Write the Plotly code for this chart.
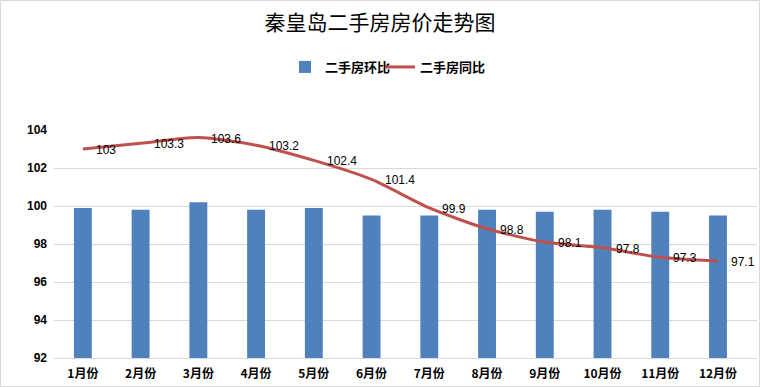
import plotly.graph_objects as go

months = ["1月份", "2月份", "3月份", "4月份", "5月份", "6月份",
          "7月份", "8月份", "9月份", "10月份", "11月份", "12月份"]
mom = [99.9, 99.8, 100.2, 99.8, 99.9, 99.5, 99.5, 99.8, 99.7, 99.8, 99.7, 99.5]
yoy = [103, 103.3, 103.6, 103.2, 102.4, 101.4, 99.9, 98.8, 98.1, 97.8, 97.3, 97.1]
yoy_labels = ["103", "103.3", "103.6", "103.2", "102.4", "101.4",
              "99.9", "98.8", "98.1", "97.8", "97.3", "97.1"]
y_ticks = [92, 94, 96, 98, 100, 102, 104]

W, H = 760, 387
ML, MR, MT, MB = 54, 3, 130, 29
PW, PH = W - ML - MR, H - MT - MB

fig = go.Figure()
fig.add_trace(go.Bar(
    x=months, y=mom, name="二手房环比", legend="legend",
    marker=dict(color="#4F81BD", line=dict(width=0)),
))
fig.add_trace(go.Scatter(
    x=months, y=yoy, name="二手房同比", mode="lines", legend="legend2",
    line=dict(color="#C0504D", width=3, shape="spline", smoothing=0.7),
))

annotations = [
    dict(x=m, y=v, text=t, xref="x", yref="y", showarrow=False,
         xanchor="left", yanchor="middle", xshift=11, yshift=-1,
         font=dict(family="Liberation Sans, Arial", size=12, color="#000000"))
    for m, v, t in zip(months, yoy, yoy_labels)
]

legend_common = dict(orientation="h", xanchor="left", y=1 + 63 / PH, yanchor="middle",
                     font=dict(family="Noto Sans CJK SC", size=13, color="#000000", weight="bold"),
                     itemwidth=30, bgcolor="rgba(0,0,0,0)")

fig.update_layout(
    width=W, height=H,
    margin=dict(l=ML, r=MR, t=MT, b=MB),
    paper_bgcolor="white", plot_bgcolor="white",
    bargap=0.69,
    showlegend=True,
    annotations=annotations,
    title=dict(text="秦皇岛二手房房价走势图", x=0.5, xanchor="center",
               y=1 - 23 / H, yanchor="middle",
               font=dict(family="Noto Sans CJK SC", size=21, color="#000000")),
    legend=dict(x=(285 - ML) / PW, **legend_common),
    legend2=dict(x=(380 - ML) / PW, **legend_common),
    xaxis=dict(showgrid=False, showline=True, linecolor="#D9D9D9", linewidth=1,
               ticks="", tickfont=dict(family="Noto Sans CJK SC", size=12, color="#000000", weight="bold"),
               ticklabelstandoff=5, fixedrange=True),
    yaxis=dict(range=[92, 104], tickvals=y_ticks, showgrid=True, gridcolor="#D9D9D9",
               gridwidth=1, zeroline=False, showline=False, ticks="",
               tickfont=dict(family="Liberation Sans, Arial", size=12, color="#000000", weight="bold"),
               ticklabelstandoff=6, fixedrange=True),
    shapes=[dict(type="rect", xref="paper", yref="paper",
                 x0=-(ML - 0.5) / PW, x1=1 + (MR - 0.5) / PW,
                 y0=-(MB - 0.5) / PH, y1=1 + (MT - 0.5) / PH,
                 line=dict(color="#D9D9D9", width=1), layer="below")],
)

fig.write_html("out.html")
